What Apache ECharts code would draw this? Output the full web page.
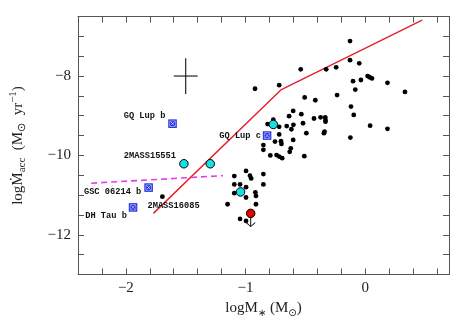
<!DOCTYPE html>
<html><head><meta charset="utf-8">
<script src="https://cdn.jsdelivr.net/npm/echarts@6/dist/echarts.min.js"></script>
<style>html,body{margin:0;padding:0;background:#fff}#c{width:474px;height:328px}</style>
</head><body><div id="c"></div>
<script>
// ---- data ----
const xTickLabels = [-2, -1, 0];
const yTickLabels = [-12, -10, -8];

const fieldStars = [
  [-0.127,-7.12],[-0.127,-7.60],[-0.050,-7.68],[-0.243,-7.78],[-0.326,-7.83],[-0.539,-7.83],
  [0.020,-8.00],[0.037,-8.03],[0.056,-8.06],[-0.036,-8.10],[-0.102,-8.13],[0.186,-8.17],
  [-0.719,-8.23],[-0.921,-8.32],[-0.083,-8.34],[0.332,-8.40],[-0.235,-8.48],[-0.506,-8.54],
  [-0.417,-8.61],[-0.119,-8.77],[-0.096,-8.98],[-0.602,-8.88],[-0.534,-8.96],[-0.636,-9.01],
  [-0.428,-9.07],[-0.373,-9.04],[-0.334,-9.04],[-0.332,-9.11],[-0.332,-9.15],[-0.520,-9.19],
  [-0.656,-9.26],[-0.600,-9.23],[-0.617,-9.34],[-0.816,-9.21],[-0.768,-9.10],[-0.719,-9.28],
  [0.041,-9.25],[0.186,-9.33],[-0.492,-9.44],[-0.340,-9.40],[-0.345,-9.44],[-0.124,-9.55],
  [-0.719,-9.47],[-0.754,-9.65],[-0.704,-9.64],[-0.700,-9.71],[-0.602,-9.61],[-0.851,-9.74],
  [-0.851,-9.86],[-0.622,-9.82],[-0.631,-9.91],[-0.793,-10.00],[-0.741,-9.99],[-0.719,-10.03],
  [-0.694,-10.07],[-0.509,-10.02],
  [-0.996,-10.39],[-1.094,-10.52],[-0.963,-10.51],[-0.953,-10.58],[-0.851,-10.47],[-1.094,-10.73],
  [-1.046,-10.73],[-0.996,-10.80],[-0.851,-10.73],[-1.094,-10.95],[-0.996,-11.06],[-0.918,-10.93],
  [-0.913,-11.02],[-0.913,-11.23],[-1.150,-11.23],[-1.046,-11.60],[-0.996,-11.65],[-1.695,-11.04]
];

const blueNames = ['GQ Lup b', 'GQ Lup c', 'GSC 06214 b', 'DH Tau b'];
const blueX = [-1.61, -0.82, -1.81, -1.94];
const blueY = [-9.20, -9.50, -10.81, -11.31];

const cyanNames = ['2MASS15551', '', '2MASS16085', ''];
const cyanX = [-1.515, -1.295, -1.042, -0.768];
const cyanY = [-10.21, -10.21, -10.92, -9.22];

const upperLimitX = -0.957;
const upperLimitY = -11.46;
const upperLimitArrowEnd = -11.80;

const relationLine = [[-1.77, -11.46], [-0.705, -8.35], [0.476, -6.59]];
const dashedLine = [[-2.29, -10.70], [-1.19, -10.51]];

const errX = -1.5, errY = -8.0, errDX = 0.1, errDY = 0.45;

// ---- styles ----
const labelOffsets = {
  'GQ Lup b': [-28, -8],
  'GQ Lup c': [-27, 0],
  'GSC 06214 b': [-36, 4],
  'DH Tau b': [-27, 8.5],
  '2MASS15551': [-34, -8],
  '2MASS16085': [-67, 14]
};
const labelFont = {fontFamily: 'Liberation Mono', fontWeight: 'bold', fontSize: 8.7, color: '#111'};

function lbl(name) {
  if (!name) return {show: false};
  return Object.assign({show: true, position: 'inside', offset: labelOffsets[name], formatter: name}, labelFont);
}

const isTick = (v, arr) => arr.some(t => Math.abs(v - t) < 1e-6);
const fmt = v => (v < 0 ? '\u2212' : '') + Math.abs(Math.round(v));

const frameColor = '#555';
const axisBase = (show) => ({
  type: 'value',
  axisLine: {show: true, onZero: false, lineStyle: {color: frameColor, width: 1}},
  axisTick: {show: true, inside: true, length: 6, lineStyle: {color: frameColor, width: 1}},
  splitLine: {show: false},
  axisLabel: {show: show}
});

const chart = echarts.init(document.getElementById('c'), null, {renderer: 'canvas'});

const xMain = Object.assign(axisBase(true), {
  min: -2.4, max: 0.7, interval: 0.2, position: 'bottom',
  axisLabel: {show: true, margin: 6, fontFamily: 'Liberation Serif', fontSize: 15, color: '#222',
    formatter: v => isTick(v, xTickLabels) ? fmt(v) : ''},
  name: '{b|logM}{a|\u2217}{b| (M}{s|\u2299}{b|)}',
  nameLocation: 'middle', nameGap: 24,
  nameTextStyle: {rich: {
    b: {fontFamily: 'Liberation Serif', fontSize: 15, color: '#222', lineHeight: 20},
    a: {fontFamily: 'DejaVu Sans', fontSize: 10, color: '#222', lineHeight: 14, verticalAlign: 'bottom'},
    s: {fontFamily: 'DejaVu Sans', fontSize: 10, color: '#222', lineHeight: 10, verticalAlign: 'bottom'}
  }}
});
const xTop = Object.assign(axisBase(false), {min: -2.4, max: 0.7, interval: 0.2, position: 'top'});
const yMain = Object.assign(axisBase(true), {
  min: -13, max: -6.5, interval: 0.5, position: 'left',
  axisLabel: {show: true, margin: 7, fontFamily: 'Liberation Serif', fontSize: 15, color: '#222',
    formatter: v => isTick(v, yTickLabels) ? fmt(v) : ''},
  name: '{b|log\u1E40}{s|acc}{b|  (M}{s|\u2299}{b|  yr}{p|\u22121}{b|)}',
  nameLocation: 'middle', nameGap: 50,
  nameTextStyle: {rich: {
    b: {fontFamily: 'Liberation Serif', fontSize: 15, color: '#222', lineHeight: 20},
    s: {fontFamily: 'Liberation Serif', fontSize: 11, color: '#222', lineHeight: 10, verticalAlign: 'bottom'},
    p: {fontFamily: 'Liberation Serif', fontSize: 11, color: '#222', lineHeight: 10, verticalAlign: 'top'}
  }}
});
const yRight = Object.assign(axisBase(false), {min: -13, max: -6.5, interval: 0.5, position: 'right'});

const blueData = blueNames.map((n, i) => ({name: n, value: [blueX[i], blueY[i]], label: lbl(n)}));
const blueBare = blueNames.map((n, i) => [blueX[i], blueY[i]]);
const cyanData = cyanNames.map((n, i) => ({name: n, value: [cyanX[i], cyanY[i]], label: lbl(n)}));

const option = {
  animation: false,
  backgroundColor: '#fff',
  grid: {left: 75.5, top: 16.5, width: 373.5, height: 258, containLabel: false},
  xAxis: [xMain, xTop],
  yAxis: [yMain, yRight],
  series: [
    {type: 'line', data: relationLine, symbol: 'none', silent: true, z: 2,
      lineStyle: {color: '#e5202a', width: 1.4}},
    {type: 'line', data: dashedLine, symbol: 'none', silent: true, z: 2,
      lineStyle: {color: '#e83ce8', width: 1.6, type: [6, 4]}},
    {type: 'line', data: [[errX - errDX, errY], [errX + errDX, errY]], symbol: 'none', silent: true,
      lineStyle: {color: '#111', width: 1.1}},
    {type: 'line', data: [[errX, errY - errDY], [errX, errY + errDY]], symbol: 'none', silent: true,
      lineStyle: {color: '#111', width: 1.1}},
    {type: 'scatter', data: fieldStars, symbol: 'circle', symbolSize: 4.8, silent: true, z: 3,
      itemStyle: {color: '#000', opacity: 1}},
    {type: 'line', data: [[upperLimitX, upperLimitY], [upperLimitX, upperLimitArrowEnd]], symbol: 'none', silent: true, z: 3,
      lineStyle: {color: '#111', width: 1}},
    {type: 'scatter', data: [[upperLimitX, upperLimitArrowEnd]], silent: true, z: 3,
      symbol: 'path://M0,0 L5,5 L10,0 L10,1.4 L5,6.4 L0,1.4 Z', symbolSize: [9, 5], symbolOffset: [0, -2.3],
      symbolKeepAspect: false, itemStyle: {color: '#111', opacity: 1}},
    {type: 'scatter', data: [[upperLimitX, upperLimitY]], symbol: 'circle', symbolSize: 8.5, silent: true, z: 4,
      itemStyle: {color: '#e60000', borderColor: '#000', borderWidth: 1, opacity: 1}},
    {type: 'scatter', data: cyanData, symbol: 'circle', symbolSize: 8.5, silent: true, z: 4,
      itemStyle: {color: '#16e0e6', borderColor: '#000', borderWidth: 1, opacity: 1}},
    {type: 'scatter', data: blueData, symbol: 'rect', symbolSize: 8.5, silent: true, z: 4,
      itemStyle: {color: '#1a26e0', opacity: 1}},
    {type: 'scatter', data: blueBare, symbol: 'rect', symbolSize: 5.6, silent: true, z: 5,
      itemStyle: {color: 'rgba(0,0,0,0)', borderColor: 'rgba(255,255,255,0.85)', borderWidth: 0.6, opacity: 1}},
    {type: 'scatter', data: blueBare, silent: true, z: 6,
      symbol: 'path://M0,0.7 L0.7,0 L5,4.3 L9.3,0 L10,0.7 L5.7,5 L10,9.3 L9.3,10 L5,5.7 L0.7,10 L0,9.3 L4.3,5 Z', symbolSize: 4.4,
      itemStyle: {color: '#fff', opacity: 1}}
  ]
};
chart.setOption(option);
</script>
</body></html>
